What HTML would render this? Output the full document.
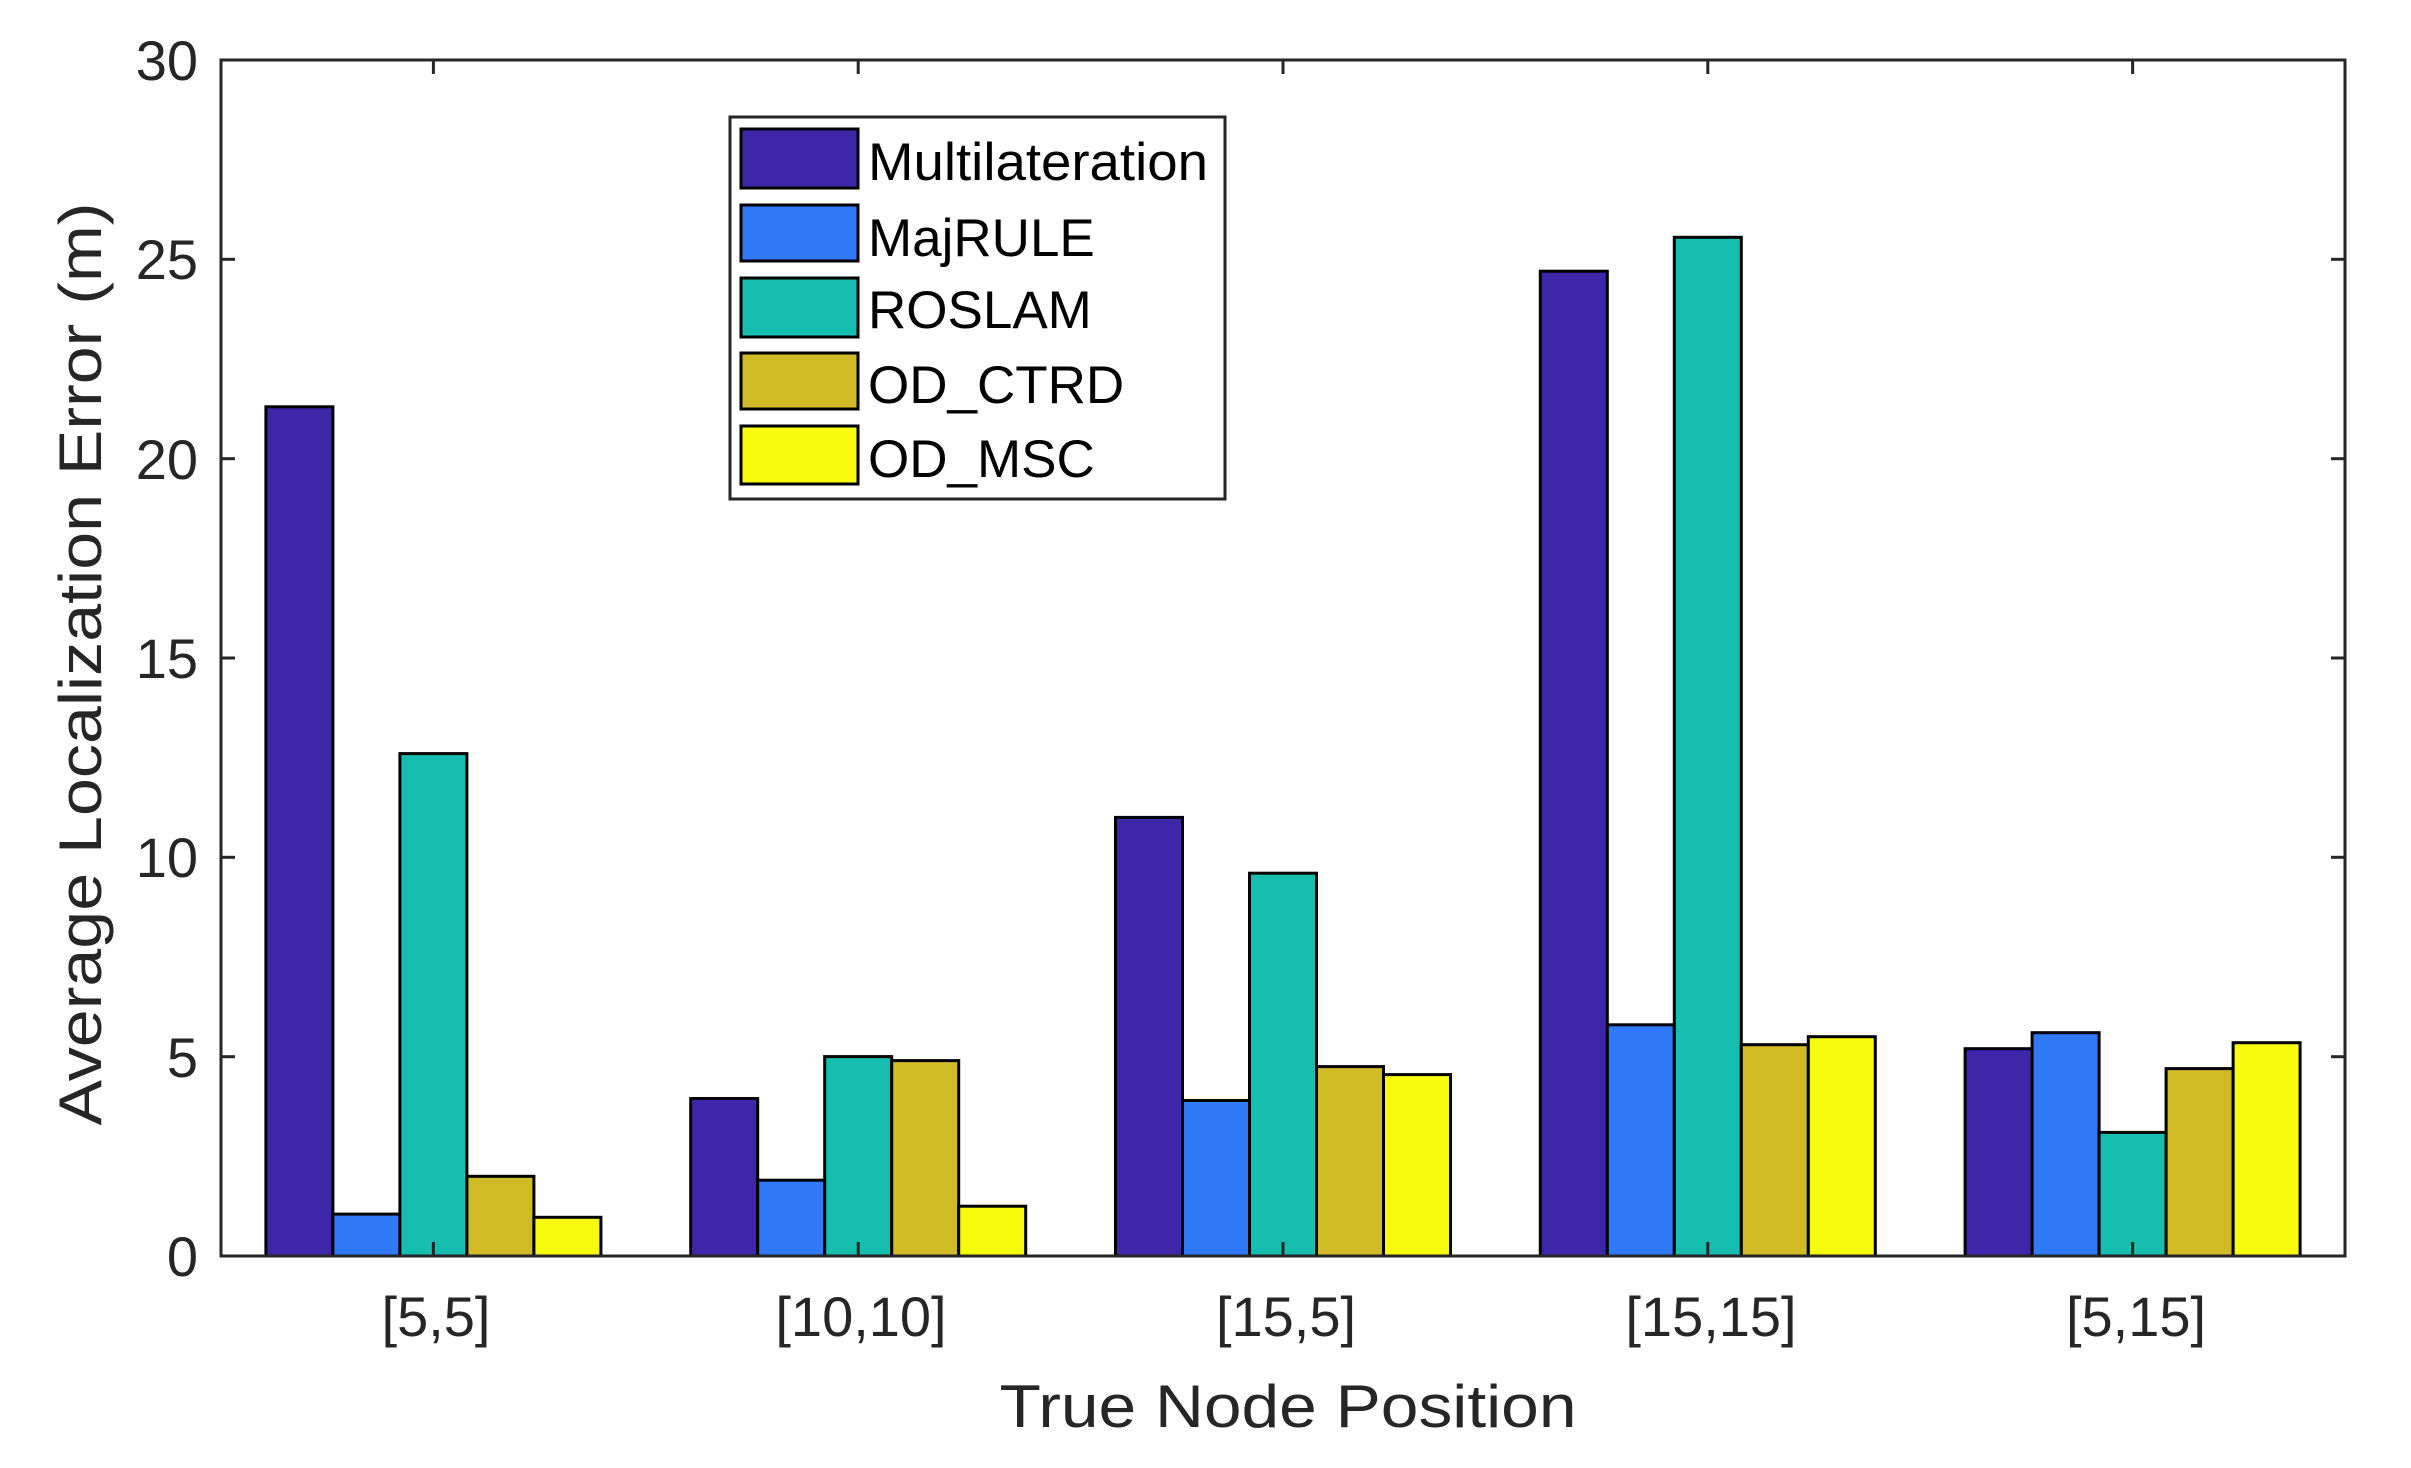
<!DOCTYPE html>
<html><head><meta charset="utf-8"><style>html,body{margin:0;padding:0;background:#fff}svg{display:block}</style></head>
<body>
<svg width="2411" height="1468" viewBox="0 0 2411 1468" xmlns="http://www.w3.org/2000/svg" font-family="Liberation Sans, Arial, sans-serif">
<rect width="2411" height="1468" fill="#fff"/>
<g stroke="#000" stroke-width="3">
<rect x="265.9" y="406.8" width="67" height="849.2" fill="#3e26a8"/>
<rect x="332.9" y="1214.1" width="67" height="41.9" fill="#3079f7"/>
<rect x="399.9" y="753.6" width="67" height="502.4" fill="#16beb0"/>
<rect x="466.9" y="1176.3" width="67" height="79.7" fill="#d0bb26"/>
<rect x="533.9" y="1217.3" width="67" height="38.7" fill="#f9fb0e"/>

<rect x="690.7" y="1098.5" width="67" height="157.5" fill="#3e26a8"/>
<rect x="757.7" y="1180.2" width="67" height="75.8" fill="#3079f7"/>
<rect x="824.7" y="1056.6" width="67" height="199.4" fill="#16beb0"/>
<rect x="891.7" y="1060.6" width="67" height="195.4" fill="#d0bb26"/>
<rect x="958.7" y="1206.2" width="67" height="49.8" fill="#f9fb0e"/>

<rect x="1115.5" y="817.4" width="67" height="438.6" fill="#3e26a8"/>
<rect x="1182.5" y="1100.5" width="67" height="155.5" fill="#3079f7"/>
<rect x="1249.5" y="873.2" width="67" height="382.8" fill="#16beb0"/>
<rect x="1316.5" y="1066.6" width="67" height="189.4" fill="#d0bb26"/>
<rect x="1383.5" y="1074.6" width="67" height="181.4" fill="#f9fb0e"/>

<rect x="1540.3" y="271.2" width="67" height="984.8" fill="#3e26a8"/>
<rect x="1607.3" y="1024.8" width="67" height="231.2" fill="#3079f7"/>
<rect x="1674.3" y="237.3" width="67" height="1018.7" fill="#16beb0"/>
<rect x="1741.3" y="1044.7" width="67" height="211.3" fill="#d0bb26"/>
<rect x="1808.3" y="1036.7" width="67" height="219.3" fill="#f9fb0e"/>

<rect x="1965.1" y="1048.7" width="67" height="207.3" fill="#3e26a8"/>
<rect x="2032.1" y="1032.7" width="67" height="223.3" fill="#3079f7"/>
<rect x="2099.1" y="1132.4" width="67" height="123.6" fill="#16beb0"/>
<rect x="2166.1" y="1068.6" width="67" height="187.4" fill="#d0bb26"/>
<rect x="2233.1" y="1042.7" width="67" height="213.3" fill="#f9fb0e"/>
</g>
<rect x="221" y="60" width="2124" height="1196" fill="none" stroke="#262626" stroke-width="3"/>
<g stroke="#262626" stroke-width="3">
<line x1="221" y1="1056.7" x2="235" y2="1056.7"/><line x1="2345" y1="1056.7" x2="2331" y2="1056.7"/>
<line x1="221" y1="857.3" x2="235" y2="857.3"/><line x1="2345" y1="857.3" x2="2331" y2="857.3"/>
<line x1="221" y1="658" x2="235" y2="658"/><line x1="2345" y1="658" x2="2331" y2="658"/>
<line x1="221" y1="458.7" x2="235" y2="458.7"/><line x1="2345" y1="458.7" x2="2331" y2="458.7"/>
<line x1="221" y1="259.3" x2="235" y2="259.3"/><line x1="2345" y1="259.3" x2="2331" y2="259.3"/>
<line x1="433.4" y1="60" x2="433.4" y2="74"/><line x1="433.4" y1="1256" x2="433.4" y2="1242"/>
<line x1="858.2" y1="60" x2="858.2" y2="74"/><line x1="858.2" y1="1256" x2="858.2" y2="1242"/>
<line x1="1283" y1="60" x2="1283" y2="74"/><line x1="1283" y1="1256" x2="1283" y2="1242"/>
<line x1="1707.8" y1="60" x2="1707.8" y2="74"/><line x1="1707.8" y1="1256" x2="1707.8" y2="1242"/>
<line x1="2132.6" y1="60" x2="2132.6" y2="74"/><line x1="2132.6" y1="1256" x2="2132.6" y2="1242"/>
</g>
<g font-size="56" fill="#262626" text-anchor="end">
<text x="198" y="1276">0</text>
<text x="198" y="1077">5</text>
<text x="198" y="877">10</text>
<text x="198" y="678">15</text>
<text x="198" y="479">20</text>
<text x="198" y="279">25</text>
<text x="198" y="80">30</text>
</g>
<g font-size="56" fill="#262626" text-anchor="middle">
<text x="436" y="1336">[5,5]</text>
<text x="861" y="1336">[10,10]</text>
<text x="1286" y="1336">[15,5]</text>
<text x="1711" y="1336">[15,15]</text>
<text x="2136" y="1336">[5,15]</text>
</g>
<text x="1288" y="1427" font-size="60" fill="#262626" text-anchor="middle" textLength="577" lengthAdjust="spacingAndGlyphs">True Node Position</text>
<text transform="translate(101,664) rotate(-90)" font-size="60" fill="#262626" text-anchor="middle" textLength="923" lengthAdjust="spacingAndGlyphs">Average Localization Error (m)</text>
<rect x="730" y="117" width="495" height="382" fill="#fff" stroke="#262626" stroke-width="3"/>
<g stroke="#000" stroke-width="3">
<rect x="741" y="129" width="117" height="59" fill="#3e26a8"/>
<rect x="741" y="205" width="117" height="56" fill="#3079f7"/>
<rect x="741" y="278" width="117" height="59" fill="#16beb0"/>
<rect x="741" y="353" width="117" height="56" fill="#d0bb26"/>
<rect x="741" y="426" width="117" height="58" fill="#f9fb0e"/>
</g>
<g font-size="53" fill="#000">
<text x="868" y="180" textLength="340" lengthAdjust="spacingAndGlyphs">Multilateration</text>
<text x="868" y="256">MajRULE</text>
<text x="868" y="328">ROSLAM</text>
<text x="868" y="403">OD_CTRD</text>
<text x="868" y="477">OD_MSC</text>
</g>
</svg>
</body></html>
